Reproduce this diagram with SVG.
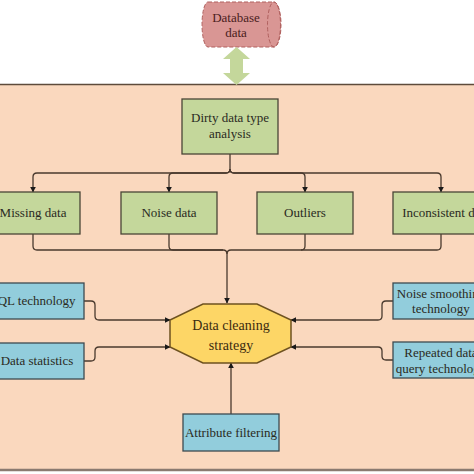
<svg xmlns="http://www.w3.org/2000/svg" width="474" height="474" viewBox="0 0 474 474">
<defs>
<style>
.t{font-family:"Liberation Serif","Times New Roman",serif;font-size:13px;fill:#2a2a22;text-anchor:middle}
.g{fill:#C4D79B;stroke:#4a4536;stroke-width:1.3}
.b{fill:#92CDDC;stroke:#3d4a50;stroke-width:1.3}
.c{fill:none;stroke:#4a3a2e;stroke-width:1.3}
</style>
<marker id="ah" viewBox="0 0 10 10" refX="9" refY="5" markerWidth="6" markerHeight="6" orient="auto" markerUnits="userSpaceOnUse">
<path d="M0,0 L10,5 L0,10 z" fill="#1a1a1a"/>
</marker>
</defs>
<rect x="0" y="0" width="474" height="474" fill="#ffffff"/>
<g id="panel">
<rect x="-5" y="84.5" width="484" height="385" fill="#FAD8BE"/>
<line x1="0" y1="84.5" x2="474" y2="84.5" stroke="#5e4b3c" stroke-width="1.5"/>
<line x1="0" y1="470" x2="474" y2="470" stroke="#8a7a70" stroke-width="2.5"/>
</g>
<g id="database">
<path d="M208,2 H274 A7,22.5 0 0 1 274,47 H208 A6,22.5 0 0 1 208,2 z" fill="#D99694" stroke="#b0605e" stroke-width="1" stroke-dasharray="4,2"/>
<ellipse cx="274" cy="24.5" rx="6.5" ry="22.5" fill="none" stroke="#b0605e" stroke-width="1" stroke-dasharray="4,2"/>
<text class="t" x="236" y="22" style="fill:#4a2020">Database</text>
<text class="t" x="236" y="37" style="fill:#4a2020">data</text>
</g>
<g id="link-arrow">
<path d="M236.5,47 L250,59 L243,59 L243,73 L250,73 L236.5,85 L223,73 L230,73 L230,59 L223,59 z" fill="#C4D79B"/>
</g>
<g id="connectors">
<path class="c" d="M230,154 V169 Q230,173 226,173 H37 Q33,173 33,177 V192" marker-end="url(#ah)"/>
<path class="c" d="M230,169 Q230,173 226,173 H173 Q169,173 169,177 V192" marker-end="url(#ah)"/>
<path class="c" d="M230,169 Q230,173 234,173 H301 Q305,173 305,177 V192" marker-end="url(#ah)"/>
<path class="c" d="M230,169 Q230,173 234,173 H437 Q441,173 441,177 V192" marker-end="url(#ah)"/>
<path class="c" d="M33,234 V246 Q33,250 37,250 H223 Q227,250 227,254 V303" marker-end="url(#ah)"/>
<path class="c" d="M169,234 V246 Q169,250 173,250 H223"/>
<path class="c" d="M305,234 V246 Q305,250 301,250 H231 Q227,250 227,254"/>
<path class="c" d="M441,234 V246 Q441,250 437,250 H301"/>
<path class="c" d="M84,301 H91 Q95,301 95,305 V316 Q95,320 99,320 H170" marker-end="url(#ah)"/>
<path class="c" d="M84,361 H91 Q95,361 95,357 V351 Q95,347 99,347 H170" marker-end="url(#ah)"/>
<path class="c" d="M393,301 H386 Q382,301 382,305 V316 Q382,320 378,320 H291" marker-end="url(#ah)"/>
<path class="c" d="M393,360 H386 Q382,360 382,356 V351 Q382,347 378,347 H291" marker-end="url(#ah)"/>
<path class="c" d="M231,414 V363" marker-end="url(#ah)"/>
</g>
<g id="dirty">
<rect class="g" x="182" y="99" width="96" height="55"/>
<text class="t" x="230" y="122">Dirty data type</text>
<text class="t" x="230" y="138">analysis</text>
</g>
<g id="missing">
<rect class="g" x="-14" y="192" width="94" height="42"/>
<text class="t" x="33" y="217">Missing data</text>
</g>
<g id="noise">
<rect class="g" x="121" y="192" width="96" height="42"/>
<text class="t" x="169" y="217">Noise data</text>
</g>
<g id="outliers">
<rect class="g" x="257" y="192" width="96" height="42"/>
<text class="t" x="305" y="217">Outliers</text>
</g>
<g id="inconsistent">
<rect class="g" x="393" y="192" width="100" height="42"/>
<text class="t" x="446" y="217">Inconsistent data</text>
</g>
<g id="strategy">
<polygon points="203,304 257,304 291,320 291,347 257,363 203,363 170,347 170,320" fill="#FDD666" stroke="#6e5220" stroke-width="1.5"/>
<text class="t" x="231" y="330" style="fill:#3a2a10;font-size:14px">Data cleaning</text>
<text class="t" x="231" y="350" style="fill:#3a2a10;font-size:14px">strategy</text>
</g>
<g id="sql">
<rect class="b" x="-24" y="283" width="108" height="36"/>
<text class="t" x="33" y="305">SQL technology</text>
</g>
<g id="statistics">
<rect class="b" x="-24" y="343" width="108" height="36"/>
<text class="t" x="37" y="365">Data statistics</text>
</g>
<g id="smoothing">
<rect class="b" x="393" y="283" width="110" height="36"/>
<text class="t" x="441" y="298">Noise smoothing</text>
<text class="t" x="441" y="313">technology</text>
</g>
<g id="repeated">
<rect class="b" x="393" y="342" width="110" height="36"/>
<text class="t" x="441" y="357">Repeated data</text>
<text class="t" x="441" y="373">query technology</text>
</g>
<g id="attribute">
<rect class="b" x="183" y="414" width="96" height="37"/>
<text class="t" x="231" y="437">Attribute filtering</text>
</g>
</svg>
